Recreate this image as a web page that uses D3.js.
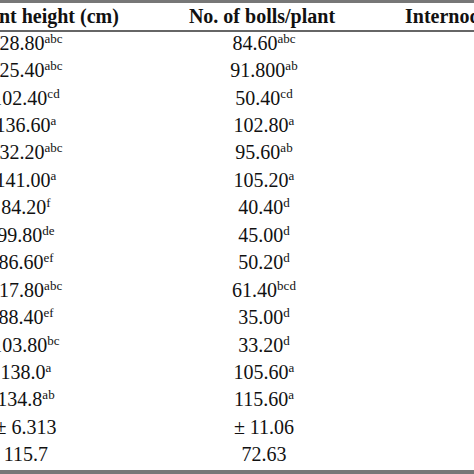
<!DOCTYPE html>
<html>
<head>
<meta charset="utf-8">
<script src="https://d3js.org/d3.v7.min.js"></script>
<style>
  body { margin: 0; background: white; }
  text { font-family: "Liberation Serif", "Times New Roman", serif; fill: #111; }
</style>
</head>
<body>
<svg id="svg"></svg>
<script>
  var headers = ["Plant height (cm)", "No. of bolls/plant", "Internode length (cm)"]
  var heightVals = ["128.80", "125.40", "102.40", "136.60", "132.20", "141.00", "84.20", "99.80", "86.60", "117.80", "88.40", "103.80", "138.0", "134.8", "± 6.313", "115.7"]
  var heightSup = ["abc", "abc", "cd", "a", "abc", "a", "f", "de", "ef", "abc", "ef", "bc", "a", "ab", "", ""]
  var bollVals = ["84.60", "91.800", "50.40", "102.80", "95.60", "105.20", "40.40", "45.00", "50.20", "61.40", "35.00", "33.20", "105.60", "115.60", "± 11.06", "72.63"]
  var bollSup = ["abc", "ab", "cd", "a", "ab", "a", "d", "d", "d", "bcd", "d", "d", "a", "a", "", ""]

  var width = 474, height = 474
  var svg = d3.select("svg").attr("width", width).attr("height", height)

  var y = d3.scaleBand().domain(d3.range(heightVals.length)).range([29, 468]).padding(0)

  // rules
  svg.append("rect").attr("x", 0).attr("y", 0).attr("width", width).attr("height", 3).attr("fill", "#777")
  svg.append("line").attr("x1", 0).attr("x2", width).attr("y1", 31).attr("y2", 31).attr("stroke", "#333").attr("stroke-width", 1.5)
  svg.append("rect").attr("x", 0).attr("y", 470).attr("width", width).attr("height", 4).attr("fill", "#777")

  var cols = [{ x: 45, anchor: "middle" }, { x: 262, anchor: "middle" }, { x: 405, anchor: "start" }]

  svg.selectAll(".hdr").data(headers).join("text")
    .attr("class", "hdr")
    .attr("x", (d, i) => cols[i].x)
    .attr("y", 23)
    .attr("text-anchor", (d, i) => cols[i].anchor)
    .attr("font-weight", "bold")
    .attr("font-size", 20)
    .text(d => d)

  function column(vals, sups, cx, cls) {
    var t = svg.selectAll("." + cls).data(vals).join("text")
      .attr("class", cls)
      .attr("x", cx)
      .attr("y", (d, i) => y(i) + y.bandwidth() / 2 + 7)
      .attr("text-anchor", "middle")
      .attr("font-size", 20)
    t.append("tspan").text(d => d)
    t.append("tspan").attr("dy", -7).attr("font-size", 13).text((d, i) => sups[i])
  }
  column(heightVals, heightSup, 26, "hv")
  column(bollVals, bollSup, 264, "bv")
</script>
</body>
</html>
